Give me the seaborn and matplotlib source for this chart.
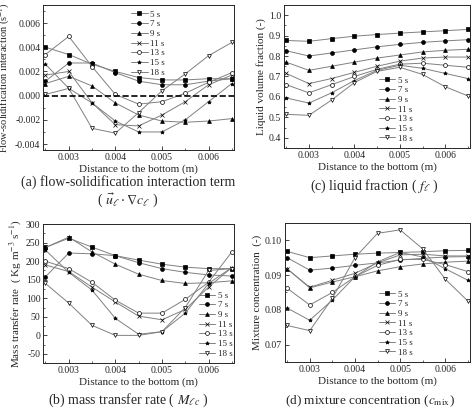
import matplotlib
matplotlib.use("Agg")
import matplotlib.pyplot as plt
from matplotlib.ticker import FormatStrFormatter, MultipleLocator, AutoMinorLocator
import seaborn as sns
import numpy as np

sns.set_style("ticks")
plt.rcParams['font.family'] = ['Liberation Serif', 'DejaVu Serif']
plt.rcParams['mathtext.fontset'] = 'stix'

x = [0.0025, 0.003, 0.0035, 0.004, 0.0045, 0.005, 0.0055, 0.006, 0.0065]
labels = ["5 s", "7 s", "9 s", "11 s", "13 s", "15 s", "18 s"]

flow = [
    [0.004, 0.0034, 0.0026, 0.002, 0.0015, 0.0013, 0.0013, 0.0014, 0.0014],
    [0.0012, 0.0027, 0.0027, 0.0019, 0.0012, 0.0009, 0.0009, 0.0012, 0.0014],
    [0.001, 0.0016, 0.0008, -0.0006, -0.0016, -0.0021, -0.0022, -0.0021, -0.0019],
    [0.0017, 0.002, -0.0006, -0.0024, -0.0025, -0.0016, -0.0005, 0.0009, 0.0017],
    [0.0034, 0.0049, 0.0024, 0.0001, -0.0007, -0.0005, 0.0002, 0.0011, 0.0019],
    [0.0026, 0.0006, -0.0006, -0.0021, -0.003, -0.003, -0.002, -0.0005, 0.001],
    [0.0001, 0.0006, -0.0027, -0.0031, -0.0014, 0.0004, 0.0018, 0.0033, 0.0044],
]
liquid = [
    [.876, .872, .885, .897, .905, .912, .918, .924, .93],
    [.826, .80, .815, .83, .845, .857, .867, .874, .88],
    [.77, .73, .75, .77, .79, .805, .82, .828, .833],
    [.715, .665, .69, .72, .75, .775, .79, .795, .795],
    [.66, .62, .66, .70, .735, .76, .765, .755, .745],
    [.595, .57, .62, .68, .73, .755, .74, .715, .69],
    [.515, .51, .585, .67, .725, .745, .71, .65, .605],
]
mass = [
    [237, 262, 238, 215, 203, 192, 184, 180, 180],
    [158, 222, 220, 215, 196, 180, 170, 163, 160],
    [237, 265, 225, 192, 165, 148, 140, 142, 147],
    [190, 172, 130, 90, 52, 42, 70, 130, 183],
    [200, 180, 143, 95, 60, 60, 97, 143, 225],
    [230, 170, 122, 46, 3, 10, 60, 140, 183],
    [140, 87, 27, 0, 0, 10, 75, 175, 180],
]
mixture = [
    [.0968, .095, .0955, .096, .0963, .0965, .0967, .097, .0971],
    [.095, .0914, .092, .0928, .0935, .0943, .0948, .0952, .0953],
    [.0918, .0863, .088, .0895, .0912, .0924, .0932, .0937, .094],
    [.0918, .0865, .0885, .0905, .0935, .0958, .096, .0955, .0955],
    [.0862, .0814, .085, .0895, .0928, .0945, .0945, .093, .091],
    [.0805, .077, .0828, .0895, .0938, .0965, .0952, .0918, .0885],
    [.0755, .074, .0833, .095, .102, .1030, .0975, .0888, .0825],
]

markers = ['s', 'o', '^', 'x', 'o', '*', 'v']
filled = [True, True, True, True, False, True, False]

fig = plt.figure(figsize=(4.74, 4.09), dpi=100)
axes = {
    'a': fig.add_axes([0.091, 0.633, 0.403, 0.355]),
    'c': fig.add_axes([0.599, 0.638, 0.393, 0.350]),
    'b': fig.add_axes([0.091, 0.112, 0.403, 0.340]),
    'd': fig.add_axes([0.601, 0.115, 0.391, 0.340]),
}

def draw(ax, data, ylim, ylabel, fmt, major, legend_loc, anchor):
    for i, ys in enumerate(data):
        mfc = 'black' if filled[i] else 'white'
        sns.lineplot(x=x, y=ys, ax=ax, color='#808080', lw=0.7, marker=markers[i],
                     markersize=2.8, markerfacecolor=mfc, markeredgecolor='black',
                     markeredgewidth=0.5, label=labels[i])
    ax.set_xlim(0.00245, 0.00655)
    ax.set_ylim(*ylim)
    ax.xaxis.set_major_locator(MultipleLocator(0.001))
    ax.xaxis.set_major_formatter(FormatStrFormatter('%.3f'))
    ax.xaxis.set_minor_locator(AutoMinorLocator(2))
    ax.yaxis.set_major_locator(MultipleLocator(major))
    ax.yaxis.set_major_formatter(FormatStrFormatter(fmt))
    ax.yaxis.set_minor_locator(AutoMinorLocator(2))
    ax.tick_params(direction='in', labelsize=7, length=3, width=0.6, pad=2)
    ax.tick_params(which='minor', direction='in', length=1.5, width=0.5)
    for s in ax.spines.values():
        s.set_linewidth(0.7)
    ax.set_xlabel('Distance to the bottom (m)', fontsize=8, labelpad=2)
    ax.set_ylabel(ylabel, fontsize=8, labelpad=2)
    ax.legend(loc=legend_loc, bbox_to_anchor=anchor, frameon=False, fontsize=6.5,
              handlelength=1.8, labelspacing=0.15, borderaxespad=0.2, handletextpad=0.3)

draw(axes['a'], flow, (-0.0045, 0.0075), r'Flow-solidification interaction (s$^{-1}$)',
     '%.3f', 0.002, 'upper center', (0.55, 1.0))
axes['a'].yaxis.label.set_fontsize(7.5)
axes['a'].axhline(0, color='black', ls='--', lw=1.2)
draw(axes['c'], liquid, (0.35, 1.05), 'Liquid volume fraction (-)', '%.1f', 0.1,
     'lower center', (0.6, 0.0))
draw(axes['b'], mass, (-75, 300), r'Mass transfer rate  ( Kg m$^{-3}$ s$^{-1}$)', '%d', 50,
     'lower right', (1.02, 0.0))
draw(axes['d'], mixture, (0.065, 0.105), 'Mixture concentration  (-)', '%.2f', 0.01,
     'lower center', (0.6, 0.0))

fig.text(0.27, 0.545, '(a) flow-solidification interaction term', ha='center', fontsize=10)
fig.text(0.27, 0.50, r'( $\vec{u}_{\ell}\cdot\nabla c_{\ell}$ )', ha='center', fontsize=10)
fig.text(0.79, 0.535, r'(c) liquid fraction ( $f_{\ell}$ )', ha='center', fontsize=10)
fig.text(0.27, 0.012, r'(b) mass transfer rate ( $M_{\ell c}$ )', ha='center', fontsize=10)
fig.text(0.78, 0.012, r'(d) mixture concentration ($c_{\rm mix}$)', ha='center', fontsize=9.5)

fig.savefig('out.png', dpi=100)
